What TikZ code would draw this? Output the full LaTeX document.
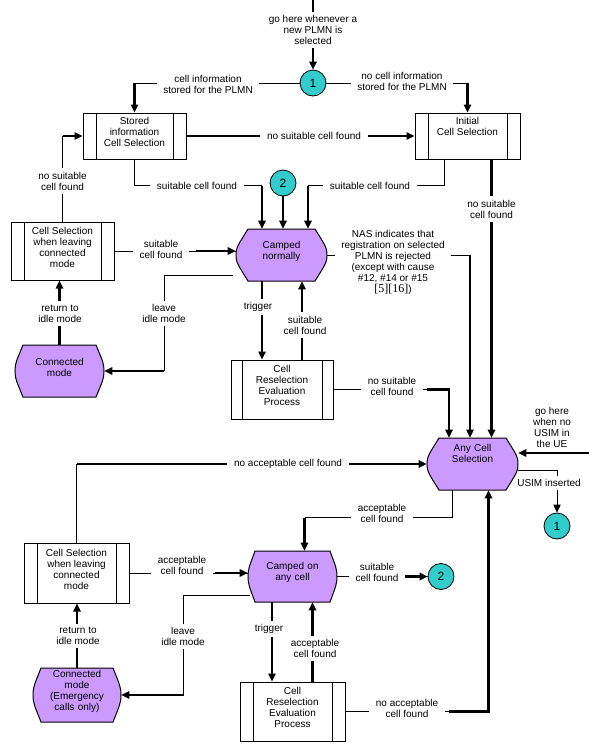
\documentclass[tikz,border=0pt]{standalone}
\usepackage{fontspec}
\setmainfont{Liberation Sans}
\newfontfamily\serifont{Liberation Serif}
\usetikzlibrary{arrows.meta,calc,fit}
\definecolor{tealc}{RGB}{51,204,204}
\definecolor{purp}{RGB}{204,153,255}
\newcommand{\lblfont}{\fontsize{7.5pt}{8.25pt}\selectfont}
\newcommand{\numfont}{\fontsize{9pt}{10pt}\selectfont}
\newcommand{\rtab}[2]{\raisebox{#1}{\begin{tabular}{@{}c@{}}#2\end{tabular}}}
\newcommand{\evnode}[7]{%
  \draw[evline] ({#2+#6},#3) -- ({#4-#6},#3)
    .. controls ({#4-0.2*#6},{#3+0.3*(#5-#3)}) and (#4,{0.5*(#3+#5)-0.15*(#5-#3)}) .. (#4,{0.5*(#3+#5)})
    .. controls (#4,{0.5*(#3+#5)+0.15*(#5-#3)}) and ({#4-0.2*#6},{#5-0.3*(#5-#3)}) .. ({#4-#6},#5)
    -- ({#2+#6},#5)
    .. controls ({#2+0.2*#6},{#5-0.3*(#5-#3)}) and (#2,{0.5*(#3+#5)+0.15*(#5-#3)}) .. (#2,{0.5*(#3+#5)})
    .. controls (#2,{0.5*(#3+#5)-0.15*(#5-#3)}) and ({#2+0.2*#6},{#3+0.3*(#5-#3)}) .. cycle;
  \node[fit={(#2,#3) (#4,#5)}, inner sep=0pt, align=center, font=\lblfont] (#1) {#7};
}
\tikzset{
  thn/.style={line width=0.6pt},
  med/.style={line width=1pt},
  thk/.style={line width=1.7pt},
  arr/.style={-{Triangle[length=6pt,width=5.5pt]}},
  evline/.style={draw=black, fill=purp, line width=0.75pt},
  conn/.style={circle, draw=black, line width=0.6pt, fill=tealc, minimum size=19.5pt, inner sep=0pt, font=\numfont},
  procbox/.style={draw, line width=0.75pt, fill=white, inner sep=0pt, align=center, font=\lblfont,
    path picture={
      \draw[line width=0.75pt] ($(path picture bounding box.north west)+(#1,0)$) -- ($(path picture bounding box.south west)+(#1,0)$);
      \draw[line width=0.75pt] ($(path picture bounding box.north east)+(-#1,0)$) -- ($(path picture bounding box.south east)+(-#1,0)$);
    }},
  procbox/.default=13,
  lbl/.style={fill=white, inner xsep=5pt, inner ysep=2.5pt, align=center, font=\lblfont},
}
\begin{document}
\begin{tikzpicture}[x=0.75pt,y=-0.75pt]
\fill[white] (0,0) rectangle (589,750);
\useasboundingbox (0,0) rectangle (589,750);

% connector circles
\node[conn] (c1a) at (313,83) {1};
\node[conn] (c2a) at (283,183) {2};
\node[conn] (c1b) at (557,526) {1};
\node[conn] (c2b) at (441,576.5) {2};

% process boxes
\node[procbox, fit={(83,113) (186,159)}] (stored) {Stored\\information\\Cell Selection};
\node[procbox, fit={(415,113) (520,159)}] (initial) {\rtab{2.25pt}{Initial\\Cell Selection}};
\node[procbox, fit={(11,222) (114,280)}] (csel1) {Cell Selection\\when leaving\\connected\\mode};
\node[procbox=11, fit={(231,360) (333,419)}] (rese1) {Cell\\Reselection\\Evaluation\\Process};
\node[procbox, fit={(24,543) (129,603)}] (csel2) {Cell Selection\\when leaving\\connected\\mode};
\node[procbox, fit={(240,682) (345,741)}] (rese2) {Cell\\Reselection\\Evaluation\\Process};

% states
\evnode{campn}{236}{229}{327}{281}{12}{Camped\\normally}
\evnode{conn1}{15}{345}{104}{397}{8}{Connected\\mode}
\evnode{anyc}{427}{438}{518}{490}{12}{\rtab{3.75pt}{Any Cell\\Selection}}
\evnode{campa}{248}{551}{337}{602}{7}{Camped on\\any cell}
\evnode{conn2}{33}{668}{121}{722}{8}{Connected\\mode\\(Emergency\\calls only)}

% connectors
\coordinate (topin) at (313,0);
\draw[thk,arr] (topin) -- (c1a.north);

\coordinate (b1) at (c1a.west -| stored.north);
\draw[thn] (c1a.west) -- (b1);
\draw[thk,arr] (b1) -- (stored.north);

\coordinate (b2) at (c1a.east -| initial.north);
\draw[thn] (c1a.east) -- (b2);
\draw[thk,arr] (b2) -- (initial.north);

\draw[thk,arr] (stored.east) -- (initial.west);

\coordinate (b3) at ($(campn.north)+(-19.5,-43)$);
\draw[thn] (stored.south) |- (b3);
\draw[thk,arr] (b3) -- (b3 |- campn.north);

\draw[thk,arr] (c2a.south) -- (c2a.south |- campn.north);

\coordinate (b4) at ($(campn.north)+(26.5,-43)$);
\draw[thn] ($(initial.south)+(-23.5,0)$) |- (b4);
\draw[thk,arr] (b4) -- (b4 |- campn.north);

\coordinate (b5) at ($(initial.south)+(24,0)$);
\draw[thk,arr] (b5) -- (b5 |- anyc.north);

\coordinate (b6) at (csel1.north |- stored.west);
\draw[thn] (csel1.north) -- (b6);
\draw[thk,arr] (b6) -- (stored.west);

\coordinate (b7) at (csel1.east -| campn.west);
\draw[thn] (csel1.east) -- (b7);
\draw[thk,arr] ($(b7)+(-40,0)$) -- (b7);

\coordinate (b8) at ($(conn1.east)+(60,0)$);
\draw[thn] ($(campn.west)+(-3,20)$) -| (b8);
\draw[thk,arr] (b8) -- (conn1.east);

\draw[thk,arr] (conn1.north) -- (conn1.north |- csel1.south);

\coordinate (b9) at ($(campn.south)+(-19.5,0)$);
\draw[thk,arr] (b9) -- (b9 |- rese1.north);
\coordinate (b10) at ($(rese1.north)+(20,0)$);
\draw[thk,arr] (b10) -- (b10 |- campn.south);

\coordinate (b11) at ($(rese1.east -| anyc.north)+(-23.5,0)$);
\draw[thn] (rese1.east) -- (b11);
\draw[thk,arr] ($(b11)+(-22,0)$) -- (b11) -- (b11 |- anyc.north);

\coordinate (b12) at ($(campn.east -| anyc.north)+(-2.5,0)$);
\draw[thn] (campn.east) -- (b12);
\draw[med,arr] (b12) -- (b12 |- anyc.north);

\coordinate (usimin) at (589,453);
\draw[thk,arr] (usimin) -- (usimin -| anyc.east);

\draw[thn,arr] ($(anyc.east)+(0,6)$) -| (c1b.north);

\coordinate (b13) at (csel2.north |- anyc.west);
\draw[thn] (csel2.north) -- (b13);
\draw[thk,arr] (b13) -- (anyc.west);

\coordinate (b14) at ($(campa.north)+(12,-33)$);
\draw[thn] ($(anyc.south)+(-20,0)$) |- (b14);
\draw[thk,arr] (b14) -- (b14 |- campa.north);

\coordinate (b15) at (csel2.east -| campa.west);
\draw[thn] (csel2.east) -- (b15);
\draw[thk,arr] ($(b15)+(-33,0)$) -- (b15);

\draw[thn] (campa.east) -- (c2b.west);
\draw[thk,arr] ($(c2b.west)+(-26,0)$) -- (c2b.west);

\coordinate (b16) at ($(conn2.east)+(62.5,0)$);
\draw[thn] ($(campa.west)+(2,18.5)$) -| (b16);
\draw[thk,arr] (b16) -- (conn2.east);

\draw[thk,arr] (conn2.north) -- (conn2.north |- csel2.south);

\coordinate (b17) at ($(campa.south)+(-20.5,0)$);
\draw[thk,arr] (b17) -- (b17 |- rese2.north);
\coordinate (b18) at ($(rese2.north)+(20,0)$);
\draw[thk,arr] (b18) -- (b18 |- campa.south);

\coordinate (b19) at ($(rese2.east -| anyc.south)+(16,0)$);
\draw[thn] (rese2.east) -- (b19);
\draw[thk,arr] ($(b19)+(-40,0)$) -- (b19) -- (b19 |- anyc.south);

% labels
\node[lbl] (l1) at (313,30) {go here whenever a\\new PLMN is\\selected};
\node[lbl] (l2) at (208,84.5) {cell information\\stored for the PLMN};
\node[lbl] (l3) at (402,81) {no cell information\\stored for the PLMN};
\node[lbl] (l4) at (314,136) {no suitable cell found};
\node[lbl] (l5) at (197,186) {suitable cell found};
\node[lbl] (l6) at (370,186) {suitable cell found};
\node[lbl] (l7) at (491.5,209) {no suitable\\cell found};
\node[lbl] (l8) at (62.5,181) {no suitable\\cell found};
\node[lbl] (l9) at (161,249) {suitable\\cell found};
\node[lbl] (l10) at (164,313.5) {leave\\idle mode};
\node[lbl] (l11) at (60,313.5) {return to\\idle mode};
\node[lbl] (l12) at (258,307) {trigger};
\node[lbl] (l13) at (305,325) {suitable\\cell found};
\node[lbl] (l14) at (392,386.3) {no suitable\\cell found};
\node[lbl] (l15) at (393,262) {NAS indicates that\\registration on selected\\PLMN is rejected\\(except with cause\\\#12, \#14 or \#15\\{\serifont\fontsize{9pt}{9pt}\selectfont [5][16]})};
\node[lbl] (l16) at (288,464) {no acceptable cell found};
\node[lbl, inner xsep=1.5pt] (l17) at (549,483) {USIM inserted};
\node[font=\lblfont, align=center] (l18) at (552,427) {go here\\when no\\USIM in\\the UE};
\node[lbl] (l19) at (382,513.3) {acceptable\\cell found};
\node[lbl] (l20) at (182,565.4) {acceptable\\cell found};
\node[lbl] (l21) at (377,572.2) {suitable\\cell found};
\node[lbl] (l22) at (183,636.2) {leave\\idle mode};
\node[lbl] (l23) at (78,636) {return to\\idle mode};
\node[lbl] (l24) at (269,629) {trigger};
\node[lbl] (l25) at (315,648.7) {acceptable\\cell found};
\node[lbl] (l26) at (407,708.7) {no acceptable\\cell found};
\end{tikzpicture}
\end{document}
